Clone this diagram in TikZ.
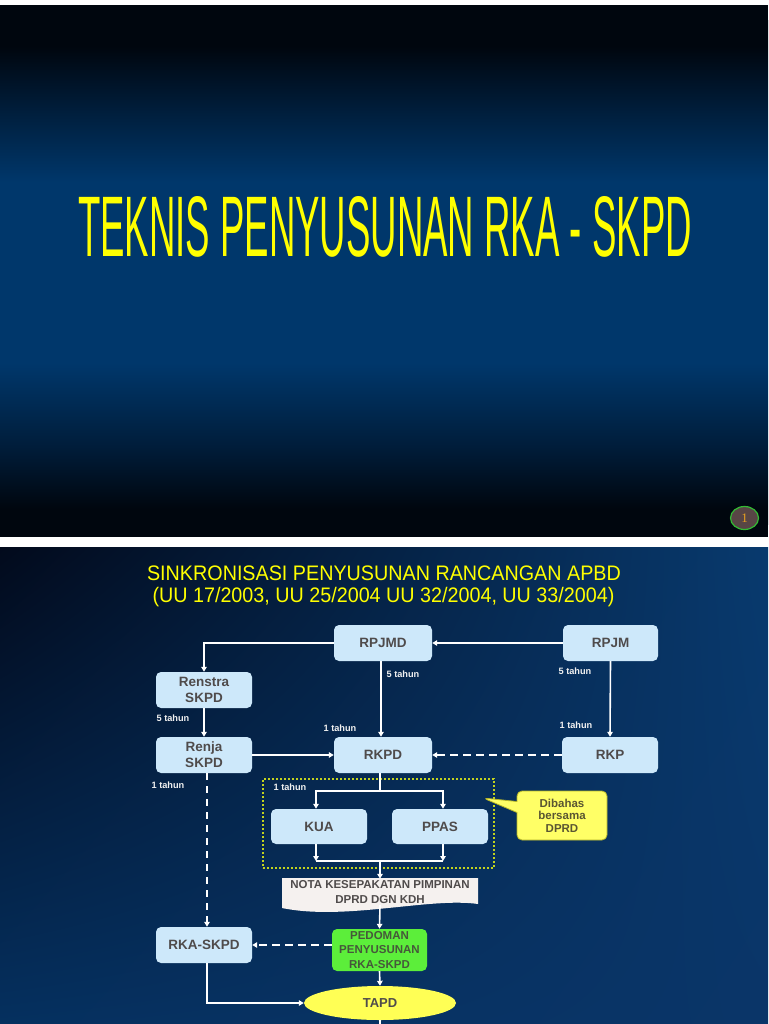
\documentclass[tikz,border=0pt]{standalone}
\usepackage{fontspec}
\setmainfont{Liberation Sans}
\newfontfamily\serifnum{Liberation Serif}
\usetikzlibrary{arrows.meta,shapes.geometric,shapes.callouts,calc,shadings}
\definecolor{boxblue}{HTML}{CDE8FA}
\definecolor{boxtext}{HTML}{4F4B4B}
\definecolor{pedgreen}{HTML}{5CEE3A}
\definecolor{pedtext}{HTML}{46583A}
\definecolor{tapdyellow}{HTML}{FFFF55}
\definecolor{calloutyellow}{HTML}{FFFF66}
\definecolor{calloutborder}{HTML}{B4B42A}
\definecolor{callouttext}{HTML}{5A5632}
\definecolor{dotgreen}{HTML}{C2D21E}
\definecolor{notafill}{HTML}{F5F1EF}
\definecolor{titleyellow}{HTML}{FFFF00}
\definecolor{navymid}{HTML}{00376B}
\definecolor{navysemi}{HTML}{001E3C}
\definecolor{navydark}{HTML}{00060E}
\definecolor{pgfill}{HTML}{584545}
\definecolor{pggreen}{HTML}{33BB33}
\definecolor{pgtext}{HTML}{E8A020}
\definecolor{bgul}{HTML}{020A1C}
\definecolor{bgur}{HTML}{083A6E}
\definecolor{bgll}{HTML}{05305F}
\definecolor{bglr}{HTML}{0A3568}
\pgfdeclareverticalshading{slideone}{100bp}{color(0bp)=(navydark); color(26.5bp)=(navydark); color(33bp)=(navysemi); color(41bp)=(navymid); color(59bp)=(navymid); color(66bp)=(navysemi); color(72.5bp)=(navydark); color(100bp)=(navydark)}
\begin{document}
\begin{tikzpicture}[x=1pt,y=-1pt,
  bx/.style={rectangle, rounded corners=5pt, fill=boxblue, text=boxtext,
    font=\bfseries\fontsize{13.5}{16}\selectfont, minimum width=96pt,
    minimum height=36pt, align=center, inner sep=1pt},
  conn/.style={draw=white, line width=1.6pt},
  arr/.style={-{Triangle[length=5pt,width=5.5pt]}},
  dsh/.style={dash pattern=on 8pt off 5pt},
  vdsh/.style={dash pattern=on 7pt off 6pt},
  lbl/.style={text=white!94!black, font=\bfseries\fontsize{9.2}{10}\selectfont, inner sep=0pt},
  ]
\useasboundingbox (0,0) rectangle (768,1024);
\fill[white] (0,0) rectangle (768,1024);
% ---------- slide 1 ----------
\fill[navydark] (0,5) rectangle (768,537);
\shade[shading=slideone] (0,21) rectangle (768,524);
\node[inner sep=0pt, text=titleyellow] (title1) at (385,227)
  {\resizebox{614pt}{60pt}{TEKNIS PENYUSUNAN RKA - SKPD}};
\node[ellipse, fill=pgfill, draw=pggreen, line width=1.2pt, minimum width=28pt,
  minimum height=23pt, inner sep=0pt, text=pgtext,
  font=\serifnum\fontsize{13}{13}\selectfont] (pg) at (744.5,518) {1};
% ---------- slide 2 ----------
\shade[upper left=bgul, upper right=bgur, lower left=bgll, lower right=bglr] (0,547) rectangle (768,1024);
\node[inner sep=0pt, text=titleyellow] (t2a) at (384,573)
  {\scalebox{0.94}[1]{\fontsize{21}{24}\selectfont SINKRONISASI PENYUSUNAN RANCANGAN APBD}};
\node[inner sep=0pt, text=titleyellow] (t2b) at (383.5,597)
  {\scalebox{0.94}[1]{\fontsize{21}{24}\selectfont (UU 17/2003, UU 25/2004 UU 32/2004, UU 33/2004)}};
% dotted group
\node[draw=dotgreen, line width=2.4pt, dash pattern=on 2.2pt off 1.8pt,
  minimum width=231pt, minimum height=89pt, inner sep=0pt] (grp) at (378.5,823.5) {};
% nota shape
\fill[notafill] (282,878) -- (478,878) -- (478,904)
  .. controls (430,897) and (345,921) .. (282,908) -- cycle;
% boxes
\node[bx, minimum width=98pt] (RPJMD) at (383,643) {RPJMD};
\node[bx, minimum width=95pt] (RPJM) at (610.5,643) {RPJM};
\node[bx] (Renstra) at (204,690) {Renstra\\SKPD};
\node[bx] (Renja) at (204,755) {Renja\\SKPD};
\node[bx, minimum width=98pt] (RKPD) at (383,755) {RKPD};
\node[bx, minimum width=96pt] (RKP) at (610,755) {RKP};
\node[bx, minimum height=35pt] (KUA) at (319,826.5) {KUA};
\node[bx, minimum height=35pt] (PPAS) at (440,826.5) {PPAS};
\node[bx] (RKA) at (204,945) {RKA-SKPD};
\node[rectangle, rounded corners=5pt, fill=pedgreen, text=pedtext,
  font=\bfseries\fontsize{11.5}{14.2}\selectfont, minimum width=95pt,
  minimum height=42pt, align=center, inner sep=1pt] (PED) at (379.5,950)
  {PEDOMAN\\PENYUSUNAN\\RKA-SKPD};
\node[ellipse, fill=tapdyellow, text=boxtext, font=\bfseries\fontsize{13}{15}\selectfont,
  minimum width=152pt, minimum height=34pt, inner sep=0pt] (TAPD) at (380,1003) {TAPD};
\node[text=boxtext, font=\bfseries\fontsize{11.5}{14.5}\selectfont, align=center,
  minimum height=26pt, inner sep=0pt] (nota) at (380,892)
  {NOTA KESEPAKATAN PIMPINAN\\DPRD DGN KDH};
\coordinate (tip) at (483,798);
\node[rectangle callout, callout absolute pointer={(tip)}, callout pointer width=11pt,
  rounded corners=5pt, fill=calloutyellow, draw=calloutborder, line width=0.8pt,
  text=callouttext, font=\bfseries\fontsize{11.5}{12.6}\selectfont, align=center,
  minimum width=90pt, minimum height=49pt, inner sep=1pt] (dib) at (562,815.5)
  {Dibahas\\bersama\\DPRD};
% labels
\node[lbl] (l1) at (403,674) {5 tahun};
\node[lbl] (l2) at (340,728) {1 tahun};
\node[lbl] (l3) at (173,718) {5 tahun};
\node[lbl] (l4) at (168,785) {1 tahun};
\node[lbl] (l5) at (290,787) {1 tahun};
\node[lbl] (l6) at (575,671) {5 tahun};
\node[lbl] (l7) at (576,725) {1 tahun};
% connectors
\draw[conn,arr] (RPJM.west) -- (RPJMD.east);
\draw[conn,arr] (RPJMD.west) -| (Renstra.north);
\draw[conn,arr] ([xshift=-2pt]RPJMD.south) -- ([xshift=-2pt]RKPD.north);
\draw[conn,arr] (RPJM.south) -- (RKP.north);
\draw[conn,arr] (Renstra.south) -- (Renja.north);
\draw[conn,arr] (Renja.east) -- (RKPD.west);
\draw[conn,arr,dsh] (RKP.west) -- (RKPD.east);
\draw[conn,arr,vdsh] ([xshift=3pt]Renja.south) -- ([xshift=3pt]RKA.north);
\coordinate (split) at (380,791);
\draw[conn] ([xshift=-3pt]RKPD.south) -- (split);
\draw[conn,arr] (split) -| ([xshift=-3pt]KUA.north);
\draw[conn,arr] (split) -| ([xshift=3pt]PPAS.north);
\coordinate (merge) at (380,861);
\draw[conn,arr] ([xshift=-3pt]KUA.south) -- ([xshift=-3pt]KUA.south |- merge);
\draw[conn,arr] ([xshift=3pt]PPAS.south) -- ([xshift=3pt]PPAS.south |- merge);
\draw[conn] ([xshift=-3pt]KUA.south |- merge) -- ([xshift=3pt]PPAS.south |- merge);
\draw[conn,arr] (merge) -- (nota.north);
\draw[conn,arr] (nota.south) -- (PED.north);
\draw[conn,arr,dsh] (PED.west |- RKA.east) -- (RKA.east);
\draw[conn,arr] (PED.south) -- (TAPD.north);
\draw[conn,arr] ([xshift=3pt]RKA.south) |- (TAPD.west);
\coordinate (bot) at (380,1024);
\draw[conn] (TAPD.south) -- (bot);
\end{tikzpicture}
\end{document}
